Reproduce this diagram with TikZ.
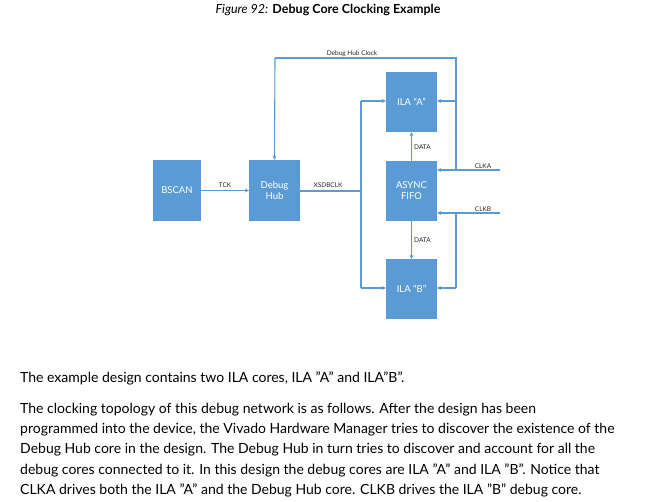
\documentclass[tikz,border=0pt]{standalone}
\usepackage{fontspec}
\setmainfont{Lato}
\usetikzlibrary{arrows.meta}
\definecolor{blk}{HTML}{5B9BD5}
\definecolor{ln}{HTML}{5B9BD5}
\newcommand\mydq{\symbol{34}}
\begin{document}
\begin{tikzpicture}[x=1pt,y=-1pt,
  blockbox/.style={fill=blk,draw=none,text=white,font=\fontsize{9.5}{11}\selectfont,align=center,inner sep=0},
  wire/.style={draw=ln,line width=1.1pt},
  arr/.style={wire,-{Stealth[length=4pt,width=4pt]}},
  lab/.style={font=\fontsize{6.5}{7.5}\selectfont,text=black!85,inner sep=1pt},
  para/.style={anchor=west,font=\fontsize{14}{16}\selectfont,inner sep=0}]
\useasboundingbox (0,0) rectangle (656,501);
\node[font=\fontsize{12.5}{14}\selectfont] (title) at (328,10) {\textit{Figure 92:} \textbf{Debug Core Clocking Example}};
\node[blockbox,minimum width=48,minimum height=61] (bscan) at (177,190.5) {BSCAN};
\node[blockbox,minimum width=51,minimum height=61] (hub) at (274.5,190.5) {Debug\\Hub};
\node[blockbox,minimum width=51,minimum height=60] (ilaa) at (411.5,102) {ILA “A”};
\node[blockbox,minimum width=51,minimum height=60] (fifo) at (411.5,191) {ASYNC\\FIFO};
\node[blockbox,minimum width=51,minimum height=60] (ilab) at (411.5,289) {ILA “B”};
\coordinate (tl) at (275,58);
\coordinate (tr) at (456,58);
\coordinate (ja) at (456,101);
\coordinate (ca) at (456,170);
\coordinate (cain) at (500,170);
\coordinate (cbin) at (500,213);
\coordinate (cb) at (456,213);
\coordinate (jb) at (456,288);
\coordinate (xs) at (361,191);
\coordinate (xa) at (361,101);
\coordinate (xb) at (361,288);
\draw[arr] (cain) -- (fifo.east|-cain);
\draw[wire] (ca) -- (tr) -- (tl);
\draw[arr] (tl) -- (hub.north);
\draw[arr] (ja) -- (ilaa.east|-ja);
\node[lab,anchor=south] (dhc) at (352,58) {Debug Hub Clock};
\node[lab,anchor=south] (clka) at (483,170) {CLKA};
\draw[arr] (cbin) -- (fifo.east|-cbin);
\draw[wire] (cb) -- (jb);
\draw[arr] (jb) -- (ilab.east|-jb);
\node[lab,anchor=south] (clkb) at (483,213) {CLKB};
\draw[arr] (bscan.east) -- (hub.west);
\node[lab,anchor=south] (tck) at (225,189) {TCK};
\draw[wire] (hub.east|-xs) -- (xs);
\draw[wire] (xa) -- (xb);
\draw[arr] (xa) -- (ilaa.west|-xa);
\draw[arr] (xb) -- (ilab.west|-xb);
\node[lab,anchor=south] (xsd) at (328,189) {XSDBCLK};
\draw[arr] (fifo.north) -- (ilaa.south);
\draw[arr] (fifo.south) -- (ilab.north);
\node[lab,anchor=west] (d1) at (413,147) {DATA};
\node[lab,anchor=west] (d2) at (413,240) {DATA};
\node[para] (p1) at (20,378) {The example design contains two ILA cores, ILA \mydq A\mydq{} and ILA\mydq B\mydq.};
\node[para] (p2) at (20,410) {The clocking topology of this debug network is as follows. After the design has been};
\node[para] (p3) at (20,430) {programmed into the device, the Vivado Hardware Manager tries to discover the existence of the};
\node[para] (p4) at (20,450) {Debug Hub core in the design. The Debug Hub in turn tries to discover and account for all the};
\node[para] (p5) at (20,470) {debug cores connected to it. In this design the debug cores are ILA \mydq A\mydq{} and ILA \mydq B\mydq. Notice that};
\node[para] (p6) at (20,490) {CLKA drives both the ILA \mydq A\mydq{} and the Debug Hub core. CLKB drives the ILA \mydq B\mydq{} debug core.};
\end{tikzpicture}
\end{document}
